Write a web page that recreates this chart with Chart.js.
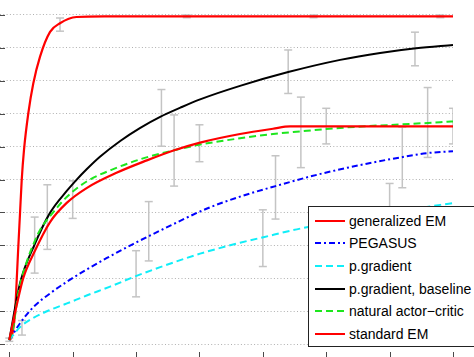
<!DOCTYPE html>
<html><head><meta charset="utf-8">
<script src="https://cdn.jsdelivr.net/npm/chart.js@4.4.1/dist/chart.umd.min.js"></script>
<style>
html,body{margin:0;padding:0;background:#fff;overflow:hidden}
#wrap{position:relative;width:474px;height:357px}
#legend{position:absolute;left:308px;top:206px;width:180px;height:141px;box-sizing:border-box;border:1px solid #222;background:#fff;padding-top:2.5px;font-family:"Liberation Sans",Arial,sans-serif;font-size:14px;color:#000;white-space:nowrap}
.row{height:22.6px;display:flex;align-items:center}
.row svg{margin-left:6px;margin-right:4px;flex:none}
</style></head><body>
<div id="wrap"><canvas id="c"></canvas><div id="legend"></div></div>
<script>
// axis ticks (no labels in the reference)
const iterTicks = [0, 100, 200, 300, 400, 500, 600, 700];
const returnTicks = [0, 1, 2, 3, 4, 5, 6, 7, 8, 9, 10];

// series labels
const labels = ["generalized EM", "PEGASUS", "p.gradient", "p.gradient, baseline", "natural actor\u2212critic", "standard EM"];

// generalized EM
const genEM_x = [0, 3.8, 9, 11.7, 14.2, 16.9, 19.6, 23.2, 30, 37.9, 48.5, 64.3, 80, 106, 150, 250, 400, 550, 700];
const genEM_y = [0.13, 0.23, 0.94, 1.95, 2.96, 3.97, 4.99, 5.90, 7.01, 7.92, 8.73, 9.48, 9.74, 9.93, 9.95, 9.95, 9.95, 9.95, 9.95];
// PEGASUS
const peg_x = [0, 17, 38, 64, 91, 122, 154, 196, 238, 312, 364, 420, 491, 564, 617, 659, 700];
const peg_y = [0.13, 0.64, 1.13, 1.54, 1.90, 2.27, 2.62, 3.05, 3.45, 4.12, 4.48, 4.80, 5.17, 5.48, 5.67, 5.80, 5.86];
// p.gradient
const pg_x = [0, 17, 38, 64, 91, 122, 159, 196, 238, 301, 364, 401, 459, 680, 700];
const pg_y = [0.13, 0.525, 0.80, 1.04, 1.24, 1.48, 1.75, 2.04, 2.34, 2.75, 3.08, 3.25, 3.51, 4.23, 4.28];
// p.gradient, baseline
const base_x = [0, 17, 39.5, 64, 91, 106, 122, 143, 175, 206, 238, 270, 301, 364, 440, 522, 585, 642, 700];
const base_y = [0.13, 1.86, 3.01, 3.98, 4.66, 4.99, 5.31, 5.69, 6.17, 6.56, 6.90, 7.18, 7.43, 7.84, 8.26, 8.63, 8.84, 8.98, 9.08];
// natural actor-critic
const nac_x = [0, 6.3, 14.2, 27.5, 39.5, 48.5, 69.5, 90.6, 122, 170, 211, 258.5, 301, 364, 416, 459, 511, 565, 617, 691, 700];
const nac_y = [0.13, 0.53, 1.56, 2.50, 3.10, 3.47, 4.01, 4.47, 4.94, 5.36, 5.64, 5.88, 6.06, 6.25, 6.38, 6.46, 6.55, 6.62, 6.67, 6.75, 6.76];
// standard EM
const sem_x = [0, 11.7, 22, 39.5, 64.3, 90.6, 122, 170, 217, 259, 301, 364, 416, 443, 550, 700];
const sem_y = [0.13, 1.19, 2.01, 2.80, 3.71, 4.29, 4.74, 5.21, 5.58, 5.88, 6.12, 6.38, 6.54, 6.61, 6.61, 6.61];

// error bars: positions, means, half-widths
const genEM_errX = [80, 280, 480, 680], genEM_errM = [9.70, 9.95, 9.95, 9.95], genEM_errH = [0.20, 0.04, 0.04, 0.04];
const peg_errX = [20, 220, 420, 620], peg_errM = [0.50, 3.43, 4.76, 5.67], peg_errH = [0.22, 0.90, 0.96, 0.92];
const pg_errX = [0, 200, 400, 600], pg_errM = [0.14, 2.14, 3.22, 3.98], pg_errH = [0.05, 0.70, 0.86, 0.90];
const base_errX = [40, 240, 440, 640], base_errM = [3.01, 6.87, 8.27, 8.96], base_errH = [0.85, 0.86, 0.66, 0.51];
const nac_errX = [100, 300, 500, 700], nac_errM = [4.39, 6.10, 6.62, 6.62], nac_errH = [0.57, 0.56, 0.54, 0.54];
const sem_errX = [60, 260, 460, 660], sem_errM = [3.86, 5.88, 6.43, 6.73], sem_errH = [0.98, 1.08, 1.07, 1.06];

const pts = (xs, ys) => xs.map((x, i) => ({x, y: ys[i]}));
function errPts(xs, ms, hs) {
  const out = [];
  xs.forEach((x, i) => { out.push({x, y: ms[i] - hs[i]}, {x, y: ms[i] + hs[i]}, {x, y: null}); });
  return out;
}

const curve = (label, data, color, dash, order, width) => ({
  label, data, borderColor: color, backgroundColor: color, borderWidth: width || 2,
  borderDash: dash, pointRadius: 0, fill: false, cubicInterpolationMode: 'monotone', order
});
const errSet = (data) => ({
  data, borderColor: '#c4c4c4', borderWidth: 1.5, pointStyle: 'line', pointRadius: 4,
  pointBorderColor: '#c4c4c4', pointBorderWidth: 1.5, spanGaps: false, fill: false, order: 10, isErr: true
});

const datasets = [
  curve(labels[0], pts(genEM_x, genEM_y), '#ff0000', [], 6, 2.2),
  curve(labels[1], pts(peg_x, peg_y), '#0000ff', [6, 3, 2, 3], 5),
  curve(labels[2], pts(pg_x, pg_y), '#10eef8', [7, 4], 4),
  curve(labels[3], pts(base_x, base_y), '#000000', [], 3),
  curve(labels[4], pts(nac_x, nac_y), '#1ee61e', [7, 4], 2),
  curve(labels[5], pts(sem_x, sem_y), '#ff0000', [], 1, 2.2),
  errSet(errPts(genEM_errX, genEM_errM, genEM_errH)),
  errSet(errPts(peg_errX, peg_errM, peg_errH)),
  errSet(errPts(pg_errX, pg_errM, pg_errH)),
  errSet(errPts(base_errX, base_errM, base_errH)),
  errSet(errPts(nac_errX, nac_errM, nac_errH)),
  errSet(errPts(sem_errX, sem_errM, sem_errH))
];

const tickMarks = {
  id: 'tickMarks',
  afterDraw(chart) {
    const {ctx, chartArea: a, scales: {x, y}} = chart;
    ctx.save();
    ctx.strokeStyle = '#4a4a4a';
    ctx.lineWidth = 1;
    ctx.beginPath();
    y.ticks.forEach(t => { const p = Math.round(y.getPixelForValue(t.value)) + 0.5; ctx.moveTo(a.left, p); ctx.lineTo(a.left + 5, p); });
    x.ticks.forEach(t => { const p = Math.round(x.getPixelForValue(t.value)) + 0.5; ctx.moveTo(p, a.bottom); ctx.lineTo(p, a.bottom - 5); });
    ctx.stroke();
    ctx.restore();
  }
};

const chart = new Chart(document.getElementById('c'), {
  type: 'line',
  data: {datasets},
  options: {
    responsive: true, maintainAspectRatio: false, animation: false, events: [],
    layout: {padding: {left: 0, right: 21, top: 0, bottom: 0}, autoPadding: false},
    plugins: {legend: {display: false}, tooltip: {enabled: false}},
    scales: {
      x: {
        type: 'linear', min: -14.67, max: 700,
        afterBuildTicks: s => { s.ticks = iterTicks.map(v => ({value: v})); },
        grid: {display: false, drawTicks: false},
        ticks: {display: false}, border: {display: false}
      },
      y: {
        type: 'linear', min: -0.385, max: 10.446,
        afterBuildTicks: s => { s.ticks = returnTicks.map(v => ({value: v})); },
        grid: {color: '#b0b0b0', lineWidth: 1, drawTicks: false},
        ticks: {display: false}, border: {display: false, dash: [1, 2.3]}
      }
    }
  },
  plugins: [tickMarks]
});

// HTML legend built from the chart's datasets
const leg = document.getElementById('legend');
chart.data.datasets.filter(d => !d.isErr).forEach(d => {
  const row = document.createElement('div');
  row.className = 'row';
  const dash = (d.borderDash && d.borderDash.length) ? d.borderDash.join(',') : 'none';
  row.innerHTML = '<svg width="30" height="6"><line x1="0" y1="3" x2="30" y2="3" stroke="' + d.borderColor +
    '" stroke-width="2" stroke-dasharray="' + dash + '"/></svg>';
  const span = document.createElement('span');
  span.textContent = d.label;
  row.appendChild(span);
  leg.appendChild(row);
});
</script>
</body></html>
